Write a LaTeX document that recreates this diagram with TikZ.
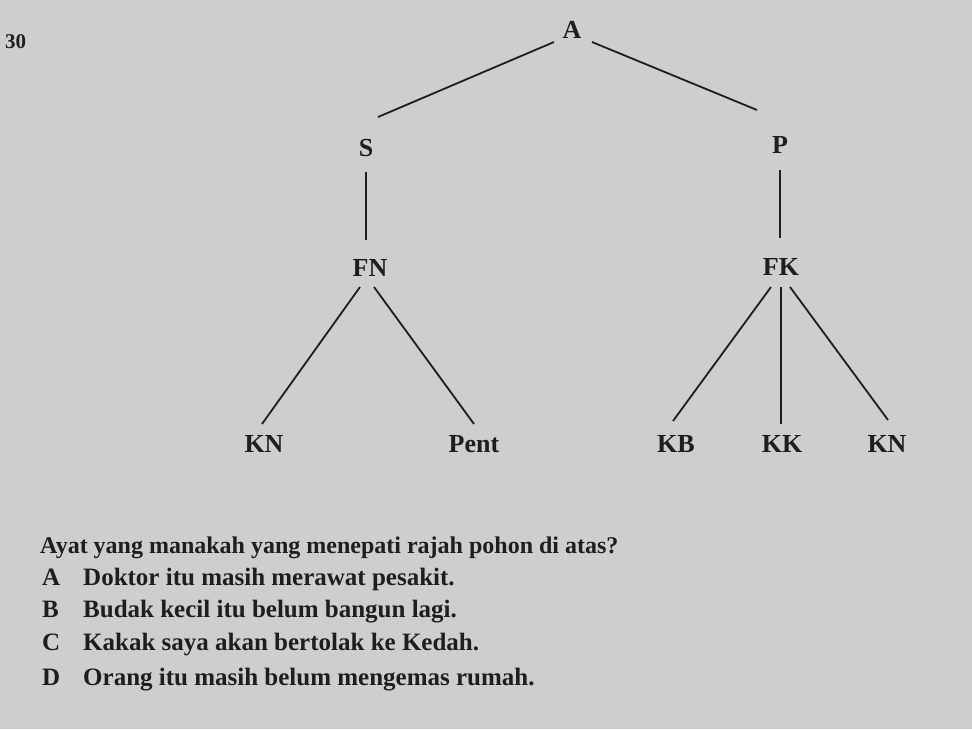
\documentclass[tikz,border=0pt]{standalone}
\usepackage{fontspec}
\setmainfont{Liberation Serif}
\definecolor{paper}{RGB}{206,206,204}
\definecolor{ink}{RGB}{30,30,30}
\tikzset{
  lbl/.style={font=\bfseries\fontsize{26}{29}\selectfont, text=ink, inner sep=1pt},
  txt/.style={font=\bfseries\fontsize{24}{28}\selectfont, text=ink, anchor=base west, inner sep=0pt},
  opt/.style={txt, font=\bfseries\fontsize{25}{29}\selectfont},
  br/.style={draw=ink, line width=1.8pt}
}
\begin{document}
\begin{tikzpicture}[x=1pt,y=-1pt]
\fill[paper] (0,0) rectangle (972,729);
\useasboundingbox (0,0) rectangle (972,729);
\node[txt, font=\bfseries\fontsize{21}{25}\selectfont] (num) at (5,48) {30};
% tree nodes
\node[lbl] (A) at (572,30) {A};
\node[lbl] (S) at (366,148) {S};
\node[lbl] (P) at (780,145) {P};
\node[lbl] (FN) at (370,268) {FN};
\node[lbl] (FK) at (781,267) {FK};
\node[lbl] (KN1) at (264,444) {KN};
\node[lbl] (Pent) at (474,444) {Pent};
\node[lbl] (KB) at (676,444) {KB};
\node[lbl] (KK) at (782,444) {KK};
\node[lbl] (KN2) at (887,444) {KN};
% branch endpoints
\coordinate (a1) at (554,42); \coordinate (s1) at (378,117);
\coordinate (a2) at (592,42); \coordinate (p1) at (757,110);
\coordinate (s2) at (366,172); \coordinate (fn0) at (366,240);
\coordinate (p2) at (780,170); \coordinate (fk0) at (780,238);
\coordinate (fn1) at (360,287); \coordinate (kn1) at (262,424);
\coordinate (fn2) at (374,287); \coordinate (pe) at (474,424);
\coordinate (fk1) at (771,287); \coordinate (kb) at (673,421);
\coordinate (fk2) at (781,287); \coordinate (kk) at (781,424);
\coordinate (fk3) at (790,287); \coordinate (kn2) at (888,420);
\draw[br] (a1) -- (s1);
\draw[br] (a2) -- (p1);
\draw[br] (s2) -- (fn0);
\draw[br] (p2) -- (fk0);
\draw[br] (fn1) -- (kn1);
\draw[br] (fn2) -- (pe);
\draw[br] (fk1) -- (kb);
\draw[br] (fk2) -- (kk);
\draw[br] (fk3) -- (kn2);
% question
\node[txt] (q) at (40,553) {Ayat yang manakah yang menepati rajah pohon di atas?};
\node[opt] (oA) at (42,585) {A};
\node[opt] (tA) at (83,585) {Doktor itu masih merawat pesakit.};
\node[opt] (oB) at (42,617) {B};
\node[opt] (tB) at (83,617) {Budak kecil itu belum bangun lagi.};
\node[opt] (oC) at (42,650) {C};
\node[opt] (tC) at (83,650) {Kakak saya akan bertolak ke Kedah.};
\node[opt] (oD) at (42,685) {D};
\node[opt] (tD) at (83,685) {Orang itu masih belum mengemas rumah.};
\end{tikzpicture}
\end{document}
